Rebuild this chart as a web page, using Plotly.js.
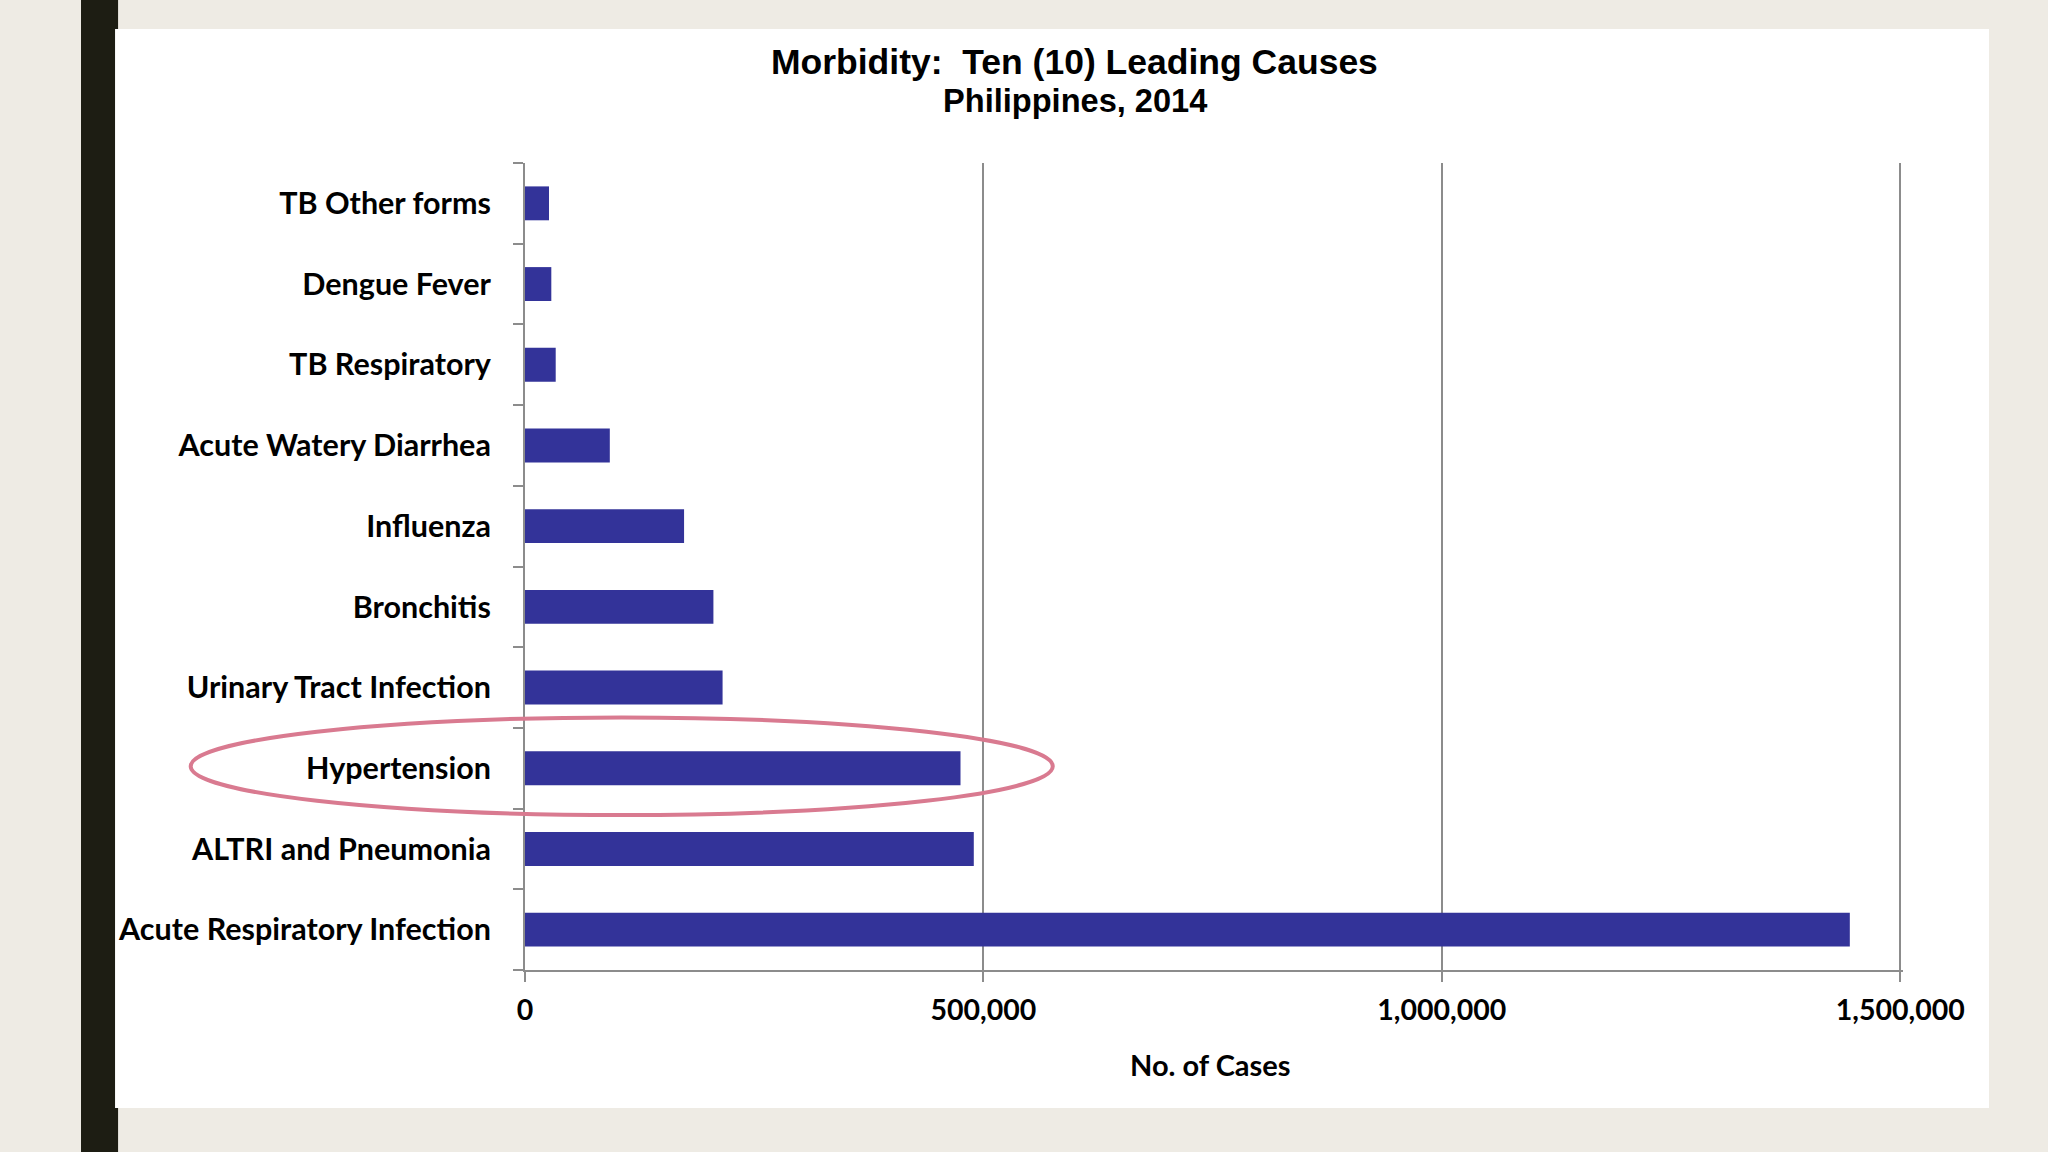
<!DOCTYPE html>
<html>
<head>
<meta charset="utf-8">
<script src="https://cdn.plot.ly/plotly-3.0.1.min.js"></script>
<style>
  html, body { margin: 0; padding: 0; background: #eeebe4; }
  #chart { width: 2048px; height: 1152px; }
</style>
</head>
<body>
<div id="chart"></div>
<script>
// Categories listed bottom to top
const categories = [
  "Acute Respiratory Infection",
  "ALTRI and Pneumonia",
  "Hypertension",
  "Urinary Tract Infection",
  "Bronchitis",
  "Influenza",
  "Acute Watery Diarrhea",
  "TB Respiratory",
  "Dengue Fever",
  "TB Other forms"
];
const cases = [1445000, 489500, 475000, 215500, 205500, 173500, 92500, 33500, 28700, 26200];
const xTickVals = [0, 500000, 1000000, 1500000];
const xTickText = ["0", "500,000", "1,000,000", "1,500,000"];
const titleLine1 = "Morbidity:\u00a0 Ten (10) Leading Causes";
const titleLine2 = "Philippines, 2014";
const xTitle = "No. of Cases";
const highlighted = "Hypertension";

const yLabelFont = { family: "Lato, 'Open Sans', sans-serif", size: 30.5, color: "#000000", weight: 700 };
const xLabelFont = { family: "Lato, 'Open Sans', sans-serif", size: 28.5, color: "#000000", weight: 700 };
const xTitleFont = { family: "Lato, 'Open Sans', sans-serif", size: 29, color: "#000000", weight: 700 };
const gridGray = "#8c8c8c";

const trace = {
  type: "bar",
  orientation: "h",
  y: categories,
  x: cases,
  marker: { color: "#333399", line: { width: 0 } },
  hoverinfo: "x+y"
};

const hIdx = categories.indexOf(highlighted);

// plot area: 525..1903 px wide (1378 px), slightly extended range so the 1.5M gridline is drawn
const layout = {
  width: 2048,
  height: 1152,
  autosize: false,
  margin: { l: 525, r: 145, t: 163, b: 182, pad: 0 },
  paper_bgcolor: "#eeebe4",
  plot_bgcolor: "rgba(0,0,0,0)",
  showlegend: false,
  bargap: 0.58,
  xaxis: {
    range: [0, 1503000],
    tickvals: xTickVals,
    ticktext: xTickText,
    showgrid: true,
    gridcolor: gridGray,
    gridwidth: 2,
    zeroline: false,
    showline: true,
    linecolor: gridGray,
    linewidth: 2,
    ticks: "outside",
    ticklen: 10,
    tickwidth: 2,
    tickcolor: gridGray,
    tickfont: xLabelFont,
    ticklabelstandoff: 4
  },
  yaxis: {
    type: "category",
    showgrid: false,
    zeroline: false,
    showline: true,
    linecolor: gridGray,
    linewidth: 2,
    ticks: "outside",
    tickson: "boundaries",
    ticklen: 10,
    tickwidth: 2,
    tickcolor: gridGray,
    tickfont: yLabelFont,
    ticklabelstandoff: 26
  },
  shapes: [
    { type: "rect", xref: "paper", yref: "paper", x0: -0.3222, x1: -0.2953, y0: -0.2255, y1: 1.2020,
      fillcolor: "#1d1d13", line: { width: 0 }, layer: "below" },
    { type: "rect", xref: "paper", yref: "paper", x0: -0.2975, x1: 1.0624, y0: -0.1710, y1: 1.1660,
      fillcolor: "#ffffff", line: { width: 0 }, layer: "below" },
    { type: "circle", xref: "paper", yref: "y", x0: -0.2426, x1: 0.3830, y0: hIdx - 0.58, y1: hIdx + 0.63,
      line: { color: "#d97a90", width: 4 }, fillcolor: "rgba(0,0,0,0)", layer: "above" }
  ],
  annotations: [
    { text: titleLine1, xref: "paper", yref: "paper", x: 0.3991, y: 1.1252, xanchor: "center", yanchor: "middle",
      showarrow: false, font: { family: "'Liberation Sans', Arial, sans-serif", size: 35.5, color: "#000", weight: 700 } },
    { text: titleLine2, xref: "paper", yref: "paper", x: 0.3991, y: 1.0774, xanchor: "center", yanchor: "middle",
      showarrow: false, font: { family: "'Liberation Sans', Arial, sans-serif", size: 32.6, color: "#000", weight: 700 } },
    { text: xTitle, xref: "paper", yref: "paper", x: 0.4971, y: -0.1175, xanchor: "center", yanchor: "middle",
      showarrow: false, font: xTitleFont }
  ]
};

Plotly.newPlot("chart", [trace], layout, { displayModeBar: false, staticPlot: true });
</script>
</body>
</html>
